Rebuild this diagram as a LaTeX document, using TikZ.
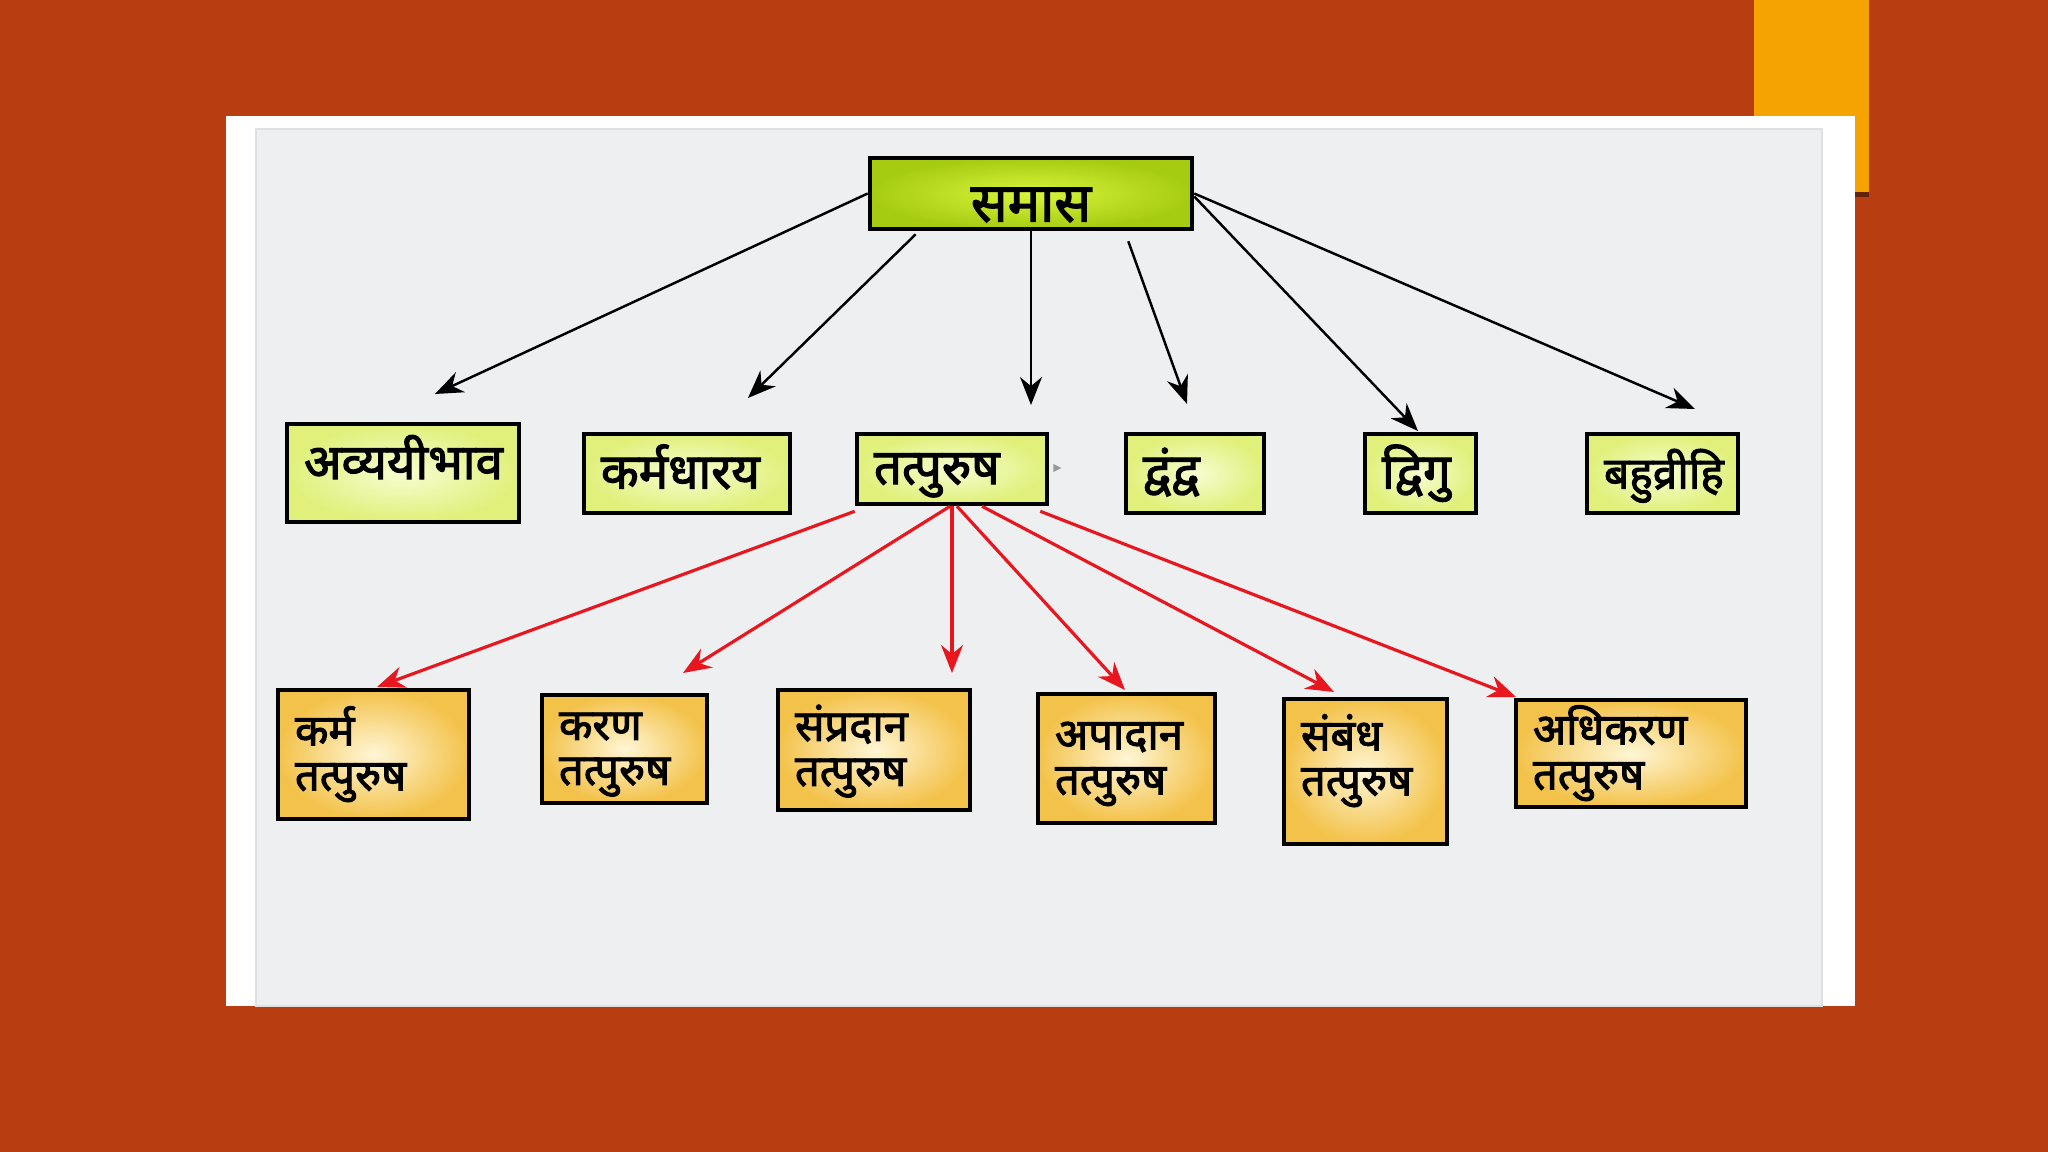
\documentclass[tikz,border=0pt]{standalone}
\usepackage{fontspec}
\usepackage{tikz}
\usetikzlibrary{arrows.meta}
\newfontfamily\devfont[Script=Devanagari, FakeBold=2.2]{Noto Sans}

\definecolor{slidebg}{HTML}{B83E12}
\definecolor{tabgold}{HTML}{F4A300}
\definecolor{panelgray}{HTML}{EEEFF1}
\definecolor{samasin}{HTML}{D8F53C}
\definecolor{samasout}{HTML}{A6CC12}
\definecolor{typein}{HTML}{F8FDD2}
\definecolor{typeout}{HTML}{E0F07A}
\definecolor{subin}{HTML}{FFF6D6}
\definecolor{subout}{HTML}{F3C24A}
\definecolor{redline}{HTML}{E8161E}

\begin{document}
\begin{tikzpicture}[
  every node/.style={draw=black, line width=1.3pt, inner ysep=0pt, inner xsep=0.17cm, align=left, font=\devfont},
  top/.style={inner color=samasin, outer color=samasout, font=\devfont\fontsize{15.5}{17}\selectfont, align=center, text height=16pt, text depth=0pt},
  kind/.style={inner color=typein, outer color=typeout, font=\devfont\fontsize{14}{15}\selectfont, text height=8.6pt, text depth=0pt},
  sub/.style={inner color=subin, outer color=subout, font=\devfont\fontsize{12.4}{12.8}\selectfont, text height=8pt, text depth=13.2pt},
  blk/.style={line width=0.7pt, -{Stealth[length=2.8mm, width=2.2mm]}},
  red/.style={redline, line width=0.9pt, -{Stealth[length=2.8mm, width=2.2mm]}}
]
  % slide
  \fill[slidebg] (0,0) rectangle (20.48,-11.52);
  \fill[black!45!slidebg] (17.54,-1.90) rectangle (18.69,-1.97);
  \fill[tabgold] (17.54,0) rectangle (18.69,-1.92);
  \fill[white!98!panelgray] (2.26,-1.16) rectangle (18.55,-10.06);
  \filldraw[fill=panelgray, draw=black!12] (2.56,-1.29) rectangle (18.22,-10.06);

  % top
  \node[top, minimum width=3.22cm, minimum height=0.71cm] (samas) at (10.31,-1.935) {समास};

  % kinds
  \node[kind, text width=1.98cm, minimum height=0.98cm, text depth=5.1pt] (avyayi) at (4.03,-4.73) {अव्ययीभाव};
  \node[kind, text width=1.72cm, minimum height=0.79cm] (karmadharay) at (6.87,-4.735) {कर्मधारय};
  \node[kind, text width=1.56cm, minimum height=0.70cm] (tatpurush) at (9.52,-4.69) {तत्पुरुष};
  \node[kind, text width=1.04cm, minimum height=0.79cm] (dvandva) at (11.95,-4.735) {द्वंद्व};
  \node[kind, text width=0.77cm, minimum height=0.79cm] (dvigu) at (14.205,-4.735) {द्विगु};
  \node[kind, text width=1.17cm, minimum height=0.79cm, font=\devfont\fontsize{12.6}{14}\selectfont] (bahuvrihi) at (16.625,-4.735) {बहुव्रीहि};

  % tatpurush kinds
  \node[sub, text width=1.57cm, minimum height=1.29cm] (karma) at (3.735,-7.545) {कर्म\\तत्पुरुष};
  \node[sub, text width=1.31cm, minimum height=1.08cm] (karan) at (6.245,-7.49) {करण\\तत्पुरुष};
  \node[sub, text width=1.58cm, minimum height=1.20cm] (sampradan) at (8.74,-7.50) {संप्रदान\\तत्पुरुष};
  \node[sub, text width=1.43cm, minimum height=1.29cm] (apadan) at (11.265,-7.585) {अपादान\\तत्पुरुष};
  \node[sub, text width=1.29cm, minimum height=1.45cm, text depth=20pt] (sambandh) at (13.655,-7.715) {संबंध\\तत्पुरुष};
  \node[sub, text width=1.96cm, minimum height=1.07cm] (adhikaran) at (16.31,-7.535) {अधिकरण\\तत्पुरुष};

  % arrow ends
  \coordinate (b1) at (4.35,-3.94);
  \coordinate (b2) at (7.48,-3.98);
  \coordinate (b3) at (10.31,-4.05);
  \coordinate (b4) at (11.87,-4.04);
  \coordinate (b5) at (14.18,-4.31);
  \coordinate (b6) at (16.95,-4.09);
  \coordinate (r1) at (3.77,-6.87);
  \coordinate (r2) at (6.83,-6.73);
  \coordinate (r3) at (9.52,-6.73);
  \coordinate (r4) at (11.25,-6.90);
  \coordinate (r5) at (13.34,-6.92);
  \coordinate (r6) at (15.16,-6.97);

  \draw[blk] (samas.west) -- (b1);
  \draw[blk] ([xshift=0.48cm, yshift=-0.03cm]samas.south west) -- (b2);
  \draw[blk] (samas.south) -- (b3);
  \draw[blk] ([xshift=-0.66cm, yshift=-0.1cm]samas.south east) -- (b4);
  \draw[blk] ([yshift=-0.03cm]samas.east) -- (b5);
  \draw[blk] (samas.east) -- (b6);

  \draw[red] ([yshift=-0.05cm]tatpurush.south west) -- (r1);
  \draw[red] ([xshift=-0.02cm]tatpurush.south) -- (r2);
  \draw[red] (tatpurush.south) -- (r3);
  \draw[red] ([xshift=0.05cm]tatpurush.south) -- (r4);
  \draw[red] ([xshift=0.3cm]tatpurush.south) -- (r5);
  \draw[red] ([xshift=-0.09cm, yshift=-0.05cm]tatpurush.south east) -- (r6);

  \fill[black!40] ([xshift=0.04cm, yshift=0.05cm]tatpurush.east) -- ++(0.08,-0.04) -- ++(-0.08,-0.04) -- cycle;
\end{tikzpicture}
\end{document}
